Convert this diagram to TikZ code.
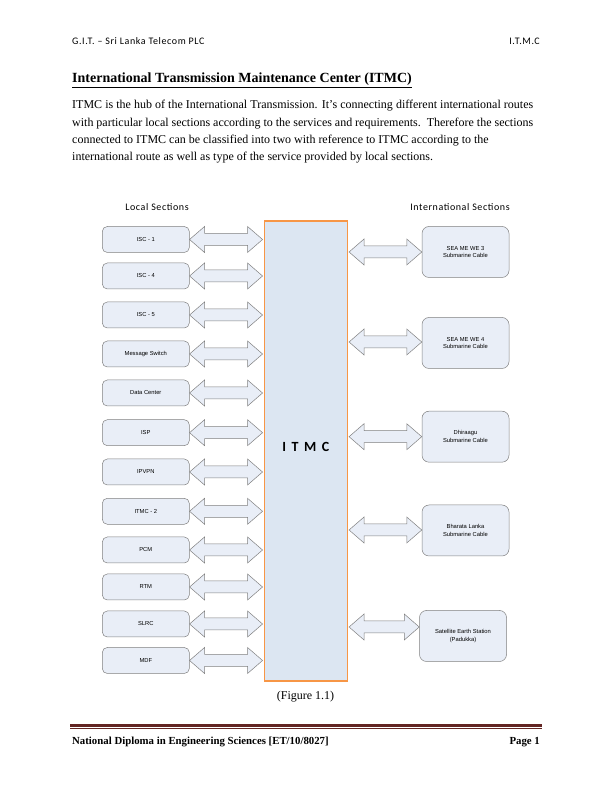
\documentclass[tikz,border=0pt]{standalone}
\usepackage{fontspec}
\setmainfont{Liberation Serif}
\newfontfamily\calibrifont[LetterSpace=6]{Carlito}
\newfontfamily\hubfont{Carlito}
\newfontfamily\arialfont{Liberation Sans}
\usepackage{tikz}
\usetikzlibrary{calc}
\usepackage{xcolor}
\definecolor{boxblue}{HTML}{E9EEF7}
\definecolor{hubblue}{HTML}{DCE6F2}
\definecolor{huborange}{HTML}{F79646}
\definecolor{edgegray}{HTML}{808080}
\definecolor{footred}{HTML}{632523}

\begin{document}
\begin{tikzpicture}[x=1pt, y=1pt,
  localbox/.style={draw=edgegray, line width=0.5pt, fill=boxblue, rounded corners=5pt,
    minimum width=87pt, minimum height=26pt, inner sep=0pt, align=center,
    font=\arialfont\fontsize{5.8}{7.7}\selectfont},
  routebox/.style={localbox, rounded corners=7pt, minimum height=51pt},
  arrowbody/.style={draw=edgegray, line width=0.5pt, fill=boxblue},
  headtext/.style={font=\calibrifont\fontsize{10}{12}\selectfont, inner sep=0pt},
  bodytext/.style={font=\fontsize{12}{14}\selectfont, inner sep=0pt, anchor=base west}]

  \useasboundingbox (0,0) rectangle (612,792);

  % Page header
  \node[headtext, anchor=base west] (hdleft) at (72,747) {G.I.T. – Sri Lanka Telecom PLC};
  \node[headtext, anchor=base east] (hdright) at (540,747) {I.T.M.C};

  % Title and paragraph
  \node[bodytext, font=\bfseries\fontsize{14}{16}\selectfont] (title) at (72,709)
    {\underline{International Transmission Maintenance Center (ITMC)}};
  \node[bodytext] (line1) at (72,683) {\makebox[461pt][s]{ITMC is the hub of the International Transmission. It’s connecting different international routes}};
  \node[bodytext] (line2) at (72,665.7) {\makebox[461pt][s]{with particular local sections according to the services and requirements.\ \ Therefore the sections}};
  \node[bodytext] (line3) at (72,648.3) {connected to ITMC can be classified into two with reference to ITMC according to the};
  \node[bodytext] (line4) at (72,631) {international route as well as type of the service provided by local sections.};

  % Column headings
  \node[headtext] (localhead) at (157,585) {Local Sections};
  \node[headtext] (inthead) at (460,585) {International Sections};

  % Central hub
  \node[draw=huborange, line width=1.5pt, fill=hubblue, minimum width=83pt,
    minimum height=460pt, inner sep=0pt] (hub) at (305.8,341.2) {};
  \node[font=\hubfont\bfseries\fontsize{14}{16}\selectfont, inner sep=0pt] (hublabel)
    at ($(hub.center)+(0,3.4)$) {I\hspace{5.5pt}T\hspace{5.5pt}M\hspace{5.5pt}C};

  % Local sections
  \foreach \b/\t/\y in {isc1/ISC - 1/552.5, isc4/ISC - 4/516, isc5/ISC - 5/477,
      msw/Message Switch/438, dc/Data Center/399, isp/ISP/359.3, ipvpn/IPVPN/320,
      itmc2/ITMC - 2/280.7, pcm/PCM/242, rtm/RTM/205, slrc/SLRC/168, mdf/MDF/131.5}
    \node[localbox] (\b) at (145.8,\y) {\t};

  % International sections
  \foreach \b/\t/\x/\y in {sea3/SEA ME WE 3\\Submarine Cable/465.5/540,
      sea4/SEA ME WE 4\\Submarine Cable/465.5/449,
      dhi/Dhiraagu\\Submarine Cable/465.5/355.3,
      bha/Bharata Lanka\\Submarine Cable/465.5/261.5,
      sat/Satellite Earth Station\\(Padukka)/463/156}
    \node[routebox] (\b) at (\x,\y) {\t};

  % Double arrows, local side
  \foreach \b in {isc1,isc4,isc5,msw,dc,isp,ipvpn,itmc2,pcm,rtm,slrc,mdf}
    \draw[arrowbody] let \p1=(\b.east), \p2=(hub.west) in
      (\x1,\y1) -- (\x1+15pt,\y1+13pt) -- (\x1+15pt,\y1+6pt) -- (\x2-16pt,\y1+6pt)
      -- (\x2-16pt,\y1+13pt) -- (\x2-1pt,\y1) -- (\x2-16pt,\y1-13pt) -- (\x2-16pt,\y1-6pt)
      -- (\x1+15pt,\y1-6pt) -- (\x1+15pt,\y1-13pt) -- cycle;

  % Double arrows, international side
  \foreach \b/\dy in {sea3/0pt, sea4/1pt, dhi/0pt, bha/0.5pt, sat/9pt}
    \draw[arrowbody] let \p1=(hub.east), \p2=(\b.west) in
      (\x1+1pt,\y2+\dy) -- (\x1+16pt,\y2+\dy+13pt) -- (\x1+16pt,\y2+\dy+6pt)
      -- (\x2-15pt,\y2+\dy+6pt) -- (\x2-15pt,\y2+\dy+13pt) -- (\x2,\y2+\dy)
      -- (\x2-15pt,\y2+\dy-13pt) -- (\x2-15pt,\y2+\dy-6pt) -- (\x1+16pt,\y2+\dy-6pt)
      -- (\x1+16pt,\y2+\dy-13pt) -- cycle;

  % Caption
  \node[font=\fontsize{12}{14}\selectfont, inner sep=0pt] (caption) at (305.5,95) {(Figure 1.1)};

  % Page footer
  \draw[footred, line width=2.5pt] (70,66.5) -- (542,66.5);
  \draw[footred, line width=0.75pt] (70,63.6) -- (542,63.6);
  \node[font=\bfseries\fontsize{10.8}{12}\selectfont, inner sep=0pt, anchor=base west] (ftleft)
    at (72,47) {National Diploma in Engineering Sciences [ET/10/8027]};
  \node[font=\bfseries\fontsize{10.8}{12}\selectfont, inner sep=0pt, anchor=base east] (ftright)
    at (540,47) {Page 1};
\end{tikzpicture}
\end{document}
